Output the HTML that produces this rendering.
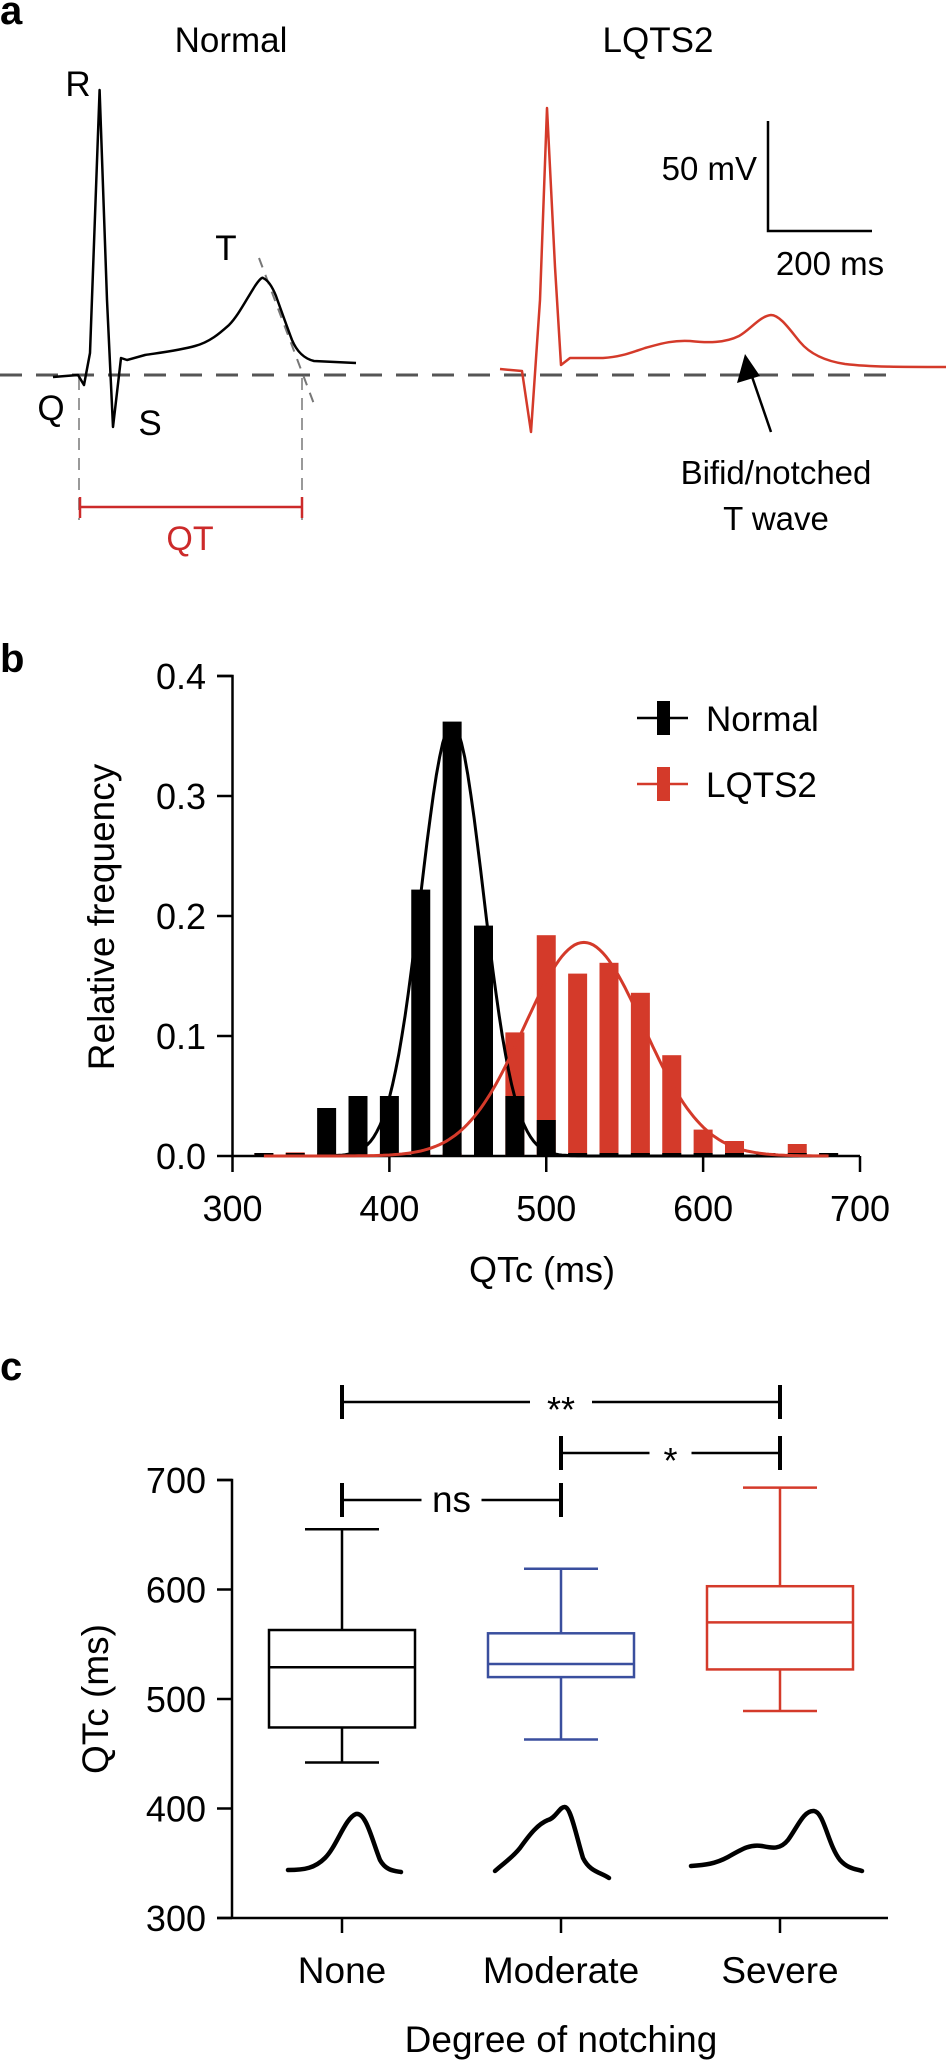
<!DOCTYPE html>
<html><head><meta charset="utf-8"><style>
html,body{margin:0;padding:0;background:#fff;}
svg{display:block;}
text{font-family:"Liberation Sans",Arial,sans-serif;}
</style></head><body>
<svg id="fig" width="946" height="2061" viewBox="0 0 946 2061" xmlns="http://www.w3.org/2000/svg">
<!-- Panel a -->
<g>
<text x="0" y="24" font-size="40" font-weight="bold">a</text>
<text x="231" y="52" font-size="35" text-anchor="middle">Normal</text>
<text x="658" y="52" font-size="35" text-anchor="middle">LQTS2</text>
<line x1="0" y1="375" x2="888" y2="375" stroke="#555" stroke-width="3" stroke-dasharray="22,14"/>
<line x1="259" y1="258" x2="314" y2="404" stroke="#777" stroke-width="2" stroke-dasharray="10,8"/>
<line x1="79" y1="378" x2="79" y2="520" stroke="#999" stroke-width="2" stroke-dasharray="12,8"/>
<line x1="302" y1="378" x2="302" y2="520" stroke="#999" stroke-width="2" stroke-dasharray="12,8"/>
<path fill="none" stroke="#000" stroke-width="2.5" stroke-linejoin="round"
 d="M53,377 L78,375 L84,385 L90,353 L99.6,90 L107,300 L113,427 L121,358 L127,360 L145,355 C165,352 181,350 195,346 C210,342 220,333 229,325 C238,316 246,300 255,286 C259,280 262,277 263,278 C268,280 272,286 276,296 C281,310 286,324 292,340 C297,352 305,359 314,361 L356,363"/>
<text x="78" y="96" font-size="35" text-anchor="middle">R</text>
<text x="226" y="260" font-size="35" text-anchor="middle">T</text>
<text x="51" y="420" font-size="35" text-anchor="middle">Q</text>
<text x="150" y="435" font-size="35" text-anchor="middle">S</text>
<g stroke="#cc2a2a" stroke-width="2.5">
<line x1="80" y1="507" x2="302" y2="507"/><line x1="80" y1="497" x2="80" y2="518"/><line x1="302" y1="497" x2="302" y2="518"/>
</g>
<text x="190" y="550" font-size="34" fill="#cc2a2a" text-anchor="middle">QT</text>
<path fill="none" stroke="#d43a2a" stroke-width="2.5" stroke-linejoin="round"
 d="M500,369 L522,371 L531,432 L540,300 L547,108 L555,267 L561,365 L570,358 L603,358 C620,357 630,353 645,348 C660,344 672,340 690,341 C708,343 725,343 739,336 C750,330 760,316 771,315 C780,315 790,330 800,342 C810,354 825,361 845,364 C870,367 900,367 946,367"/>
<g stroke="#000" stroke-width="2.5" fill="none">
<polyline points="768,121 768,231 872,231"/>
</g>
<text x="757" y="180" font-size="33" text-anchor="end">50 mV</text>
<text x="830" y="275" font-size="33" text-anchor="middle">200 ms</text>
<line x1="771" y1="432" x2="748" y2="365" stroke="#000" stroke-width="2.5"/>
<polygon points="745,354 737,383 760,376" fill="#000"/>
<text x="776" y="484" font-size="33" text-anchor="middle">Bifid/notched</text>
<text x="776" y="530" font-size="33" text-anchor="middle">T wave</text>
</g>
<!-- Panel b -->
<g id="panelB">
<text x="0" y="672" font-size="40" font-weight="bold">b</text>
<text transform="translate(114,917) rotate(-90)" font-size="37" text-anchor="middle">Relative frequency</text>
<text x="542" y="1282" font-size="36" text-anchor="middle">QTc (ms)</text>
<g>
<g>
<line x1="637" y1="718" x2="688" y2="718" stroke="#000" stroke-width="2.5"/>
<rect x="657" y="701" width="13" height="34" fill="#000"/>
<text x="706" y="731" font-size="35">Normal</text></g>
<g>
<line x1="637" y1="784" x2="688" y2="784" stroke="#d43a2a" stroke-width="2.5"/>
<rect x="657" y="767" width="13" height="34" fill="#d43a2a"/>
<text x="706" y="797" font-size="35">LQTS2</text></g>
</g>
</g>
<!-- Panel c -->
<g id="panelC">
<text x="0" y="1380" font-size="40" font-weight="bold">c</text>
<text transform="translate(108,1699) rotate(-90)" font-size="37" text-anchor="middle">QTc (ms)</text>
<text x="561" y="2052" font-size="37" text-anchor="middle">Degree of notching</text>
<g><path fill="none" stroke="#000" stroke-width="4.5" stroke-linecap="round" d="M288,1870 C305,1870 315,1868 325,1858 C337,1846 345,1818 356,1814 C366,1812 372,1840 380,1860 C386,1871 395,1871 401,1872"/></g>
<g><path fill="none" stroke="#000" stroke-width="4.5" stroke-linecap="round" d="M495,1871 C505,1862 512,1858 520,1848 C530,1834 538,1824 548,1820 C556,1818 560,1806 565,1807 C571,1808 576,1835 583,1858 C590,1872 600,1872 609,1878"/></g>
<g><path fill="none" stroke="#000" stroke-width="4.5" stroke-linecap="round" d="M691,1866 C705,1865 715,1864 728,1857 C742,1849 750,1844 762,1846 C772,1848 780,1850 788,1840 C798,1826 804,1810 814,1811 C824,1812 828,1845 840,1860 C848,1869 856,1869 862,1871"/></g>
</g>
</svg>
<script>
// ---------- Panel b data ----------
const histBins = [320,340,360,380,400,420,440,460,480,500,520,540,560,580,600,620,640,660,680];
const normalFreq = [0,0,0.04,0.05,0.05,0.222,0.362,0.192,0.05,0.03,0,0,0,0,0,0,0,0,0];
const lqtsFreq = [0,0.003,0,0,0,0,0,0,0.103,0.184,0.152,0.161,0.136,0.084,0.022,0.0125,0.002,0.01,0];
const normalFit = [440, 0.36, 20];   // mean, peak, sd
const lqtsFit = [524, 0.178, 38];
const histXTicks = [300,400,500,600,700];
const histYTicks = [0.0,0.1,0.2,0.3,0.4];
// ---------- Panel c data ----------
const groups = ['None','Moderate','Severe'];
const whiskLow = [442,463,489];
const q1 = [474,520,527];
const medians = [529,532,570];
const q3 = [563,560,603];
const whiskHigh = [655,619,693];
const boxColors = ['#000','#3a4f9e','#d43a2a'];
const boxYTicks = [300,400,500,600,700];
const sigPairs = [[0,2,'**'],[1,2,'*'],[0,1,'ns']];

const NS='http://www.w3.org/2000/svg';
function mk(tag, attrs, parent){const e=document.createElementNS(NS,tag);for(const k in attrs)e.setAttribute(k,attrs[k]);parent.appendChild(e);return e;}
const hx = v => 232.5 + (v-300)*(860-232.5)/400;
const hy = v => 1156 - v*(1156-676)/0.4;
const pB = document.getElementById('panelB');

let ax = mk('path',{d:`M217,${hy(0.4)} H232.5 V${hy(0)} H860`,fill:'none',stroke:'#000','stroke-width':2.5},pB);


histYTicks.forEach(t=>{
  const l=mk('line',{x1:217,x2:232.5,y1:hy(t),y2:hy(t),stroke:'#000','stroke-width':2.5},pB);
  
  
  const tx=mk('text',{x:206,y:hy(t)+13,'font-size':36,'text-anchor':'end'},pB);
  tx.textContent=t.toFixed(1);
  
  
});
histXTicks.forEach(t=>{
  const l=mk('line',{x1:hx(t),x2:hx(t),y1:hy(0),y2:1172,stroke:'#000','stroke-width':2.5},pB);
  
  
  const tx=mk('text',{x:hx(t),y:1221,'font-size':36,'text-anchor':'middle'},pB);
  tx.textContent=t;
  
  
});
const bw = 19;
histBins.forEach((b,i)=>{
  const v=lqtsFreq[i]; const h=Math.max(hy(0)-hy(v),3);
  const r=mk('rect',{x:hx(b)-bw/2,y:hy(0)-h,width:bw,height:h,fill:'#d43a2a'},pB);
  
  
});
histBins.forEach((b,i)=>{
  const v=normalFreq[i]; const h=Math.max(hy(0)-hy(v),3);
  const r=mk('rect',{x:hx(b)-bw/2,y:hy(0)-h,width:bw,height:h,fill:'#000'},pB);
  
  
});
function gaussPath(p, x0, x1){let d='';for(let x=x0;x<=x1;x+=2){const v=p[1]*Math.exp(-((x-p[0])**2)/(2*p[2]*p[2]));d+=(d?'L':'M')+hx(x).toFixed(1)+','+hy(v).toFixed(1);}return d;}
const gn=mk('path',{d:gaussPath(normalFit,320,680),fill:'none',stroke:'#000','stroke-width':3},pB);


const gl=mk('path',{d:gaussPath(lqtsFit,320,680),fill:'none',stroke:'#d43a2a','stroke-width':3},pB);



const pC=document.getElementById('panelC');
const cy = v => 1918 - (v-300)*(1918-1480)/400;
const cx = i => 342 + i*219;
let axc=mk('path',{d:`M217,${cy(700)} H232 V${cy(300)} M217,${cy(300)} H888`,fill:'none',stroke:'#000','stroke-width':2.5},pC);


boxYTicks.forEach(t=>{
  const l=mk('line',{x1:217,x2:232,y1:cy(t),y2:cy(t),stroke:'#000','stroke-width':2.5},pC);
  
  
  const tx=mk('text',{x:206,y:cy(t)+13,'font-size':36,'text-anchor':'end'},pC);
  tx.textContent=t;
  
  
});
groups.forEach((g,i)=>{
  const x=cx(i), c=boxColors[i];
  const l=mk('line',{x1:x,x2:x,y1:cy(300),y2:cy(300)+15,stroke:'#000','stroke-width':2.5},pC);
  
  
  const tx=mk('text',{x:x,y:1983,'font-size':37,'text-anchor':'middle'},pC);
  tx.textContent=g;
  
  
  const grp=mk('g',{stroke:c,'stroke-width':2.5,fill:'none'},pC);
  
  
  mk('line',{x1:x,x2:x,y1:cy(whiskHigh[i]),y2:cy(q3[i])},grp);
  mk('line',{x1:x,x2:x,y1:cy(q1[i]),y2:cy(whiskLow[i])},grp);
  mk('line',{x1:x-37,x2:x+37,y1:cy(whiskHigh[i]),y2:cy(whiskHigh[i])},grp);
  mk('line',{x1:x-37,x2:x+37,y1:cy(whiskLow[i]),y2:cy(whiskLow[i])},grp);
  mk('rect',{x:x-73,y:cy(q3[i]),width:146,height:cy(q1[i])-cy(q3[i])},grp);
  mk('line',{x1:x-73,x2:x+73,y1:cy(medians[i]),y2:cy(medians[i])},grp);
});
const sigY=[1402,1453,1500];
sigPairs.forEach((p,k)=>{
  const x1=cx(p[0]), x2=cx(p[1]), y=sigY[k], mid=(x1+x2)/2;
  const half = p[2]==='**'?31:(p[2]==='*'?21:30);
  const grp=mk('g',{stroke:'#000',fill:'none'},pC);
  
  
  mk('line',{x1:x1,x2:mid-half,y1:y,y2:y,'stroke-width':2.5},grp);
  mk('line',{x1:mid+half,x2:x2,y1:y,y2:y,'stroke-width':2.5},grp);
  mk('line',{x1:x1,x2:x1,y1:y-17,y2:y+17,'stroke-width':4},grp);
  mk('line',{x1:x2,x2:x2,y1:y-17,y2:y+17,'stroke-width':4},grp);
  const tx=mk('text',{x:mid,y:p[2]==='ns'?y+12:y+20,'font-size':p[2]==='ns'?37:36,'text-anchor':'middle'},pC);
  tx.textContent=p[2];
  
  
});
</script>
</body></html>
